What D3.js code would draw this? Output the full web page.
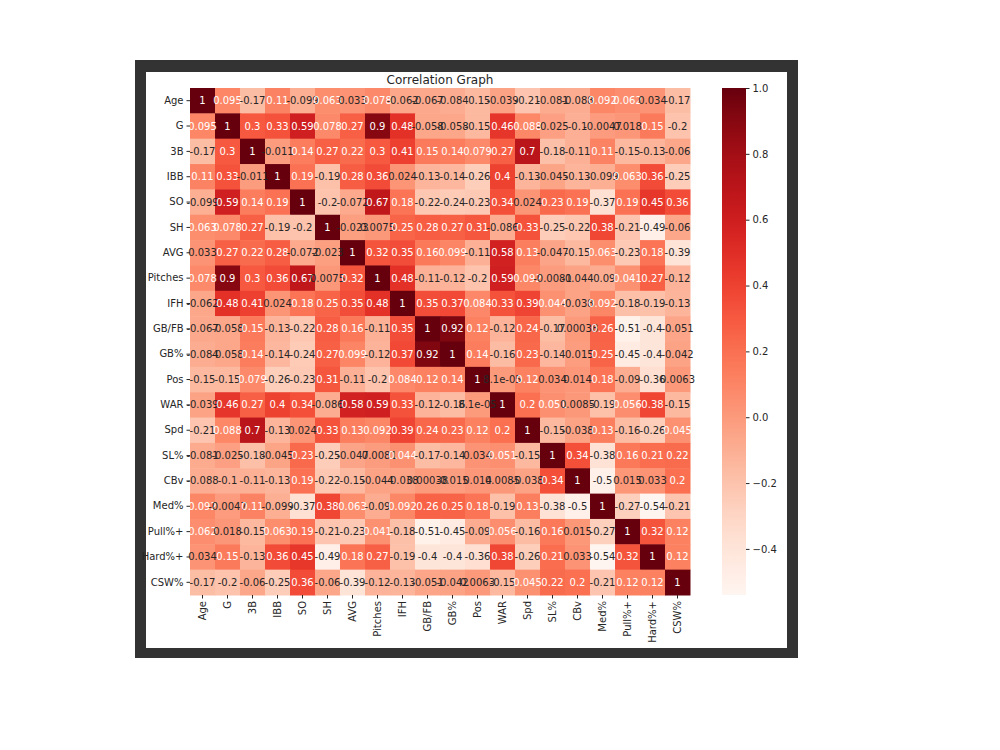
<!DOCTYPE html>
<html>
<head>
<meta charset="utf-8">
<script src="https://cdn.jsdelivr.net/npm/d3@7"></script>
<style>
  body { margin: 0; background: #fff; }
  text { font-family: "DejaVu Sans", sans-serif; }
</style>
</head>
<body>
<div id="chart"></div>
<script>
const labels = ["Age", "G", "3B", "IBB", "SO", "SH", "AVG", "Pitches", "IFH", "GB/FB", "GB%", "Pos", "WAR", "Spd", "SL%", "CBv", "Med%", "Pull%+", "Hard%+", "CSW%"];

const corr = [
  [1, 0.095, -0.17, 0.11, -0.099, 0.063, 0.033, 0.078, -0.062, -0.067, -0.084, -0.15, -0.039, -0.21, -0.081, -0.088, 0.092, 0.062, 0.034, -0.17],
  [0.095, 1, 0.3, 0.33, 0.59, 0.078, 0.27, 0.9, 0.48, -0.058, -0.058, -0.15, 0.46, 0.088, -0.025, -0.1, -0.0047, 0.018, 0.15, -0.2],
  [-0.17, 0.3, 1, -0.011, 0.14, 0.27, 0.22, 0.3, 0.41, 0.15, 0.14, 0.079, 0.27, 0.7, -0.18, -0.11, 0.11, -0.15, -0.13, -0.06],
  [0.11, 0.33, -0.011, 1, 0.19, -0.19, 0.28, 0.36, 0.024, -0.13, -0.14, -0.26, 0.4, -0.13, -0.045, -0.13, -0.099, 0.063, 0.36, -0.25],
  [-0.099, 0.59, 0.14, 0.19, 1, -0.2, -0.072, 0.67, 0.18, -0.22, -0.24, -0.23, 0.34, 0.024, 0.23, 0.19, -0.37, 0.19, 0.45, 0.36],
  [0.063, 0.078, 0.27, -0.19, -0.2, 1, -0.023, 0.0075, 0.25, 0.28, 0.27, 0.31, -0.086, 0.33, -0.25, -0.22, 0.38, -0.21, -0.49, -0.06],
  [0.033, 0.27, 0.22, 0.28, -0.072, -0.023, 1, 0.32, 0.35, 0.16, 0.099, -0.11, 0.58, 0.13, -0.047, -0.15, 0.063, -0.23, 0.18, -0.39],
  [0.078, 0.9, 0.3, 0.36, 0.67, 0.0075, 0.32, 1, 0.48, -0.11, -0.12, -0.2, 0.59, 0.092, -0.0081, -0.044, -0.09, 0.041, 0.27, -0.12],
  [-0.062, 0.48, 0.41, 0.024, 0.18, 0.25, 0.35, 0.48, 1, 0.35, 0.37, 0.084, 0.33, 0.39, 0.044, -0.038, 0.092, -0.18, -0.19, -0.13],
  [-0.067, -0.058, 0.15, -0.13, -0.22, 0.28, 0.16, -0.11, 0.35, 1, 0.92, 0.12, -0.12, 0.24, -0.17, 0.00038, 0.26, -0.51, -0.4, -0.051],
  [-0.084, -0.058, 0.14, -0.14, -0.24, 0.27, 0.099, -0.12, 0.37, 0.92, 1, 0.14, -0.16, 0.23, -0.14, -0.015, 0.25, -0.45, -0.4, -0.042],
  [-0.15, -0.15, 0.079, -0.26, -0.23, 0.31, -0.11, -0.2, 0.084, 0.12, 0.14, 1, 8.1e-05, 0.12, 0.034, 0.014, 0.18, -0.09, -0.36, 0.0063],
  [-0.039, 0.46, 0.27, 0.4, 0.34, -0.086, 0.58, 0.59, 0.33, -0.12, -0.16, 8.1e-05, 1, 0.2, 0.051, 0.0085, -0.19, 0.056, 0.38, -0.15],
  [-0.21, 0.088, 0.7, -0.13, 0.024, 0.33, 0.13, 0.092, 0.39, 0.24, 0.23, 0.12, 0.2, 1, -0.15, -0.038, 0.13, -0.16, -0.26, 0.045],
  [-0.081, -0.025, -0.18, -0.045, 0.23, -0.25, -0.047, -0.0081, 0.044, -0.17, -0.14, 0.034, 0.051, -0.15, 1, 0.34, -0.38, 0.16, 0.21, 0.22],
  [-0.088, -0.1, -0.11, -0.13, 0.19, -0.22, -0.15, -0.044, -0.038, 0.00038, -0.015, 0.014, 0.0085, -0.038, 0.34, 1, -0.5, 0.015, 0.033, 0.2],
  [0.092, -0.0047, 0.11, -0.099, -0.37, 0.38, 0.063, -0.09, 0.092, 0.26, 0.25, 0.18, -0.19, 0.13, -0.38, -0.5, 1, -0.27, -0.54, -0.21],
  [0.062, 0.018, -0.15, 0.063, 0.19, -0.21, -0.23, 0.041, -0.18, -0.51, -0.45, -0.09, 0.056, -0.16, 0.16, 0.015, -0.27, 1, 0.32, 0.12],
  [0.034, 0.15, -0.13, 0.36, 0.45, -0.49, 0.18, 0.27, -0.19, -0.4, -0.4, -0.36, 0.38, -0.26, 0.21, 0.033, -0.54, 0.32, 1, 0.12],
  [-0.17, -0.2, -0.06, -0.25, 0.36, -0.06, -0.39, -0.12, -0.13, -0.051, -0.042, 0.0063, -0.15, 0.045, 0.22, 0.2, -0.21, 0.12, 0.12, 1]
];

const cbarTicks = [-0.4, -0.2, 0.0, 0.2, 0.4, 0.6, 0.8, 1.0];

const width = 1000, height = 750;
const svg = d3.select("#chart").append("svg").attr("width", width).attr("height", height);

// dark frame around the figure
svg.append("rect").attr("x", 135).attr("y", 60).attr("width", 663).attr("height", 598).attr("fill", "#333");
svg.append("rect").attr("x", 146).attr("y", 72).attr("width", 641).attr("height", 576).attr("fill", "#fff");

const x0 = 190, x1 = 690, y0 = 88, y1 = 595;
const x = d3.scaleBand().domain(labels).range([x0, x1]);
const y = d3.scaleBand().domain(labels).range([y0, y1]);

const vmin = d3.min(corr.flat()), vmax = 1;
const color = d3.scaleSequential(d3.interpolateReds).domain([vmin, vmax]);

// format like python's .2g
const fmt = (v) => {
  if (v !== 0 && Math.abs(v) < 1e-4) {
    const [m, e] = v.toExponential(1).split("e");
    const n = parseInt(e);
    return m + "e" + (n < 0 ? "-" : "+") + String(Math.abs(n)).padStart(2, "0");
  }
  return String(parseFloat(v.toPrecision(2)));
};

const cells = [];
corr.forEach((row, i) => row.forEach((v, j) => cells.push({ r: labels[i], c: labels[j], v })));

const g = svg.append("g");
g.selectAll("rect").data(cells).enter().append("rect")
  .attr("x", (d) => x(d.c)).attr("y", (d) => y(d.r))
  .attr("width", x.bandwidth() + 0.5).attr("height", y.bandwidth() + 0.5)
  .attr("fill", (d) => color(d.v));

g.selectAll("text").data(cells).enter().append("text")
  .attr("x", (d) => x(d.c) + x.bandwidth() / 2)
  .attr("y", (d) => y(d.r) + y.bandwidth() / 2)
  .attr("dy", "0.35em").attr("text-anchor", "middle")
  .attr("font-size", 10)
  .attr("fill", (d) => (d3.hsl(color(d.v)).l < 0.72 ? "#fff" : "#262626"))
  .text((d) => fmt(d.v));

// axes
const yAxis = svg.append("g").attr("transform", `translate(${x0},0)`)
  .call(d3.axisLeft(y).tickSize(3.5).tickPadding(3));
const xAxis = svg.append("g").attr("transform", `translate(0,${y1})`)
  .call(d3.axisBottom(x).tickSize(3.5).tickPadding(3));
[yAxis, xAxis].forEach((a) => {
  a.select(".domain").remove();
  a.selectAll("text").attr("font-size", 10).attr("fill", "#262626").attr("font-family", "DejaVu Sans, sans-serif");
  a.selectAll("line").attr("stroke", "#262626");
});
xAxis.selectAll("text")
  .attr("transform", "rotate(-90)").attr("text-anchor", "end")
  .attr("x", -6).attr("y", 0).attr("dy", "0.35em");

svg.append("text").attr("x", (x0 + x1) / 2).attr("y", 84).attr("text-anchor", "middle")
  .attr("font-size", 12).attr("fill", "#262626").text("Correlation Graph");

// colorbar
const cbX = 722, cbW = 24;
const cbScale = d3.scaleLinear().domain([vmin, vmax]).range([y1, y0]);
const grad = svg.append("defs").append("linearGradient").attr("id", "cbar")
  .attr("x1", 0).attr("y1", 1).attr("x2", 0).attr("y2", 0);
d3.range(0, 1.0001, 0.05).forEach((t) => {
  grad.append("stop").attr("offset", t).attr("stop-color", color(vmin + t * (vmax - vmin)));
});
svg.append("rect").attr("x", cbX).attr("y", y0).attr("width", cbW).attr("height", y1 - y0).attr("fill", "url(#cbar)");
const cAxis = svg.append("g").attr("transform", `translate(${cbX + cbW},0)`)
  .call(d3.axisRight(cbScale).tickValues(cbarTicks).tickSize(3.5).tickPadding(3)
    .tickFormat((d) => d3.format(".1f")(d).replace("-", "\u2212")));
cAxis.select(".domain").remove();
cAxis.selectAll("text").attr("font-size", 10).attr("fill", "#262626");
cAxis.selectAll("line").attr("stroke", "#262626");
</script>
</body>
</html>
